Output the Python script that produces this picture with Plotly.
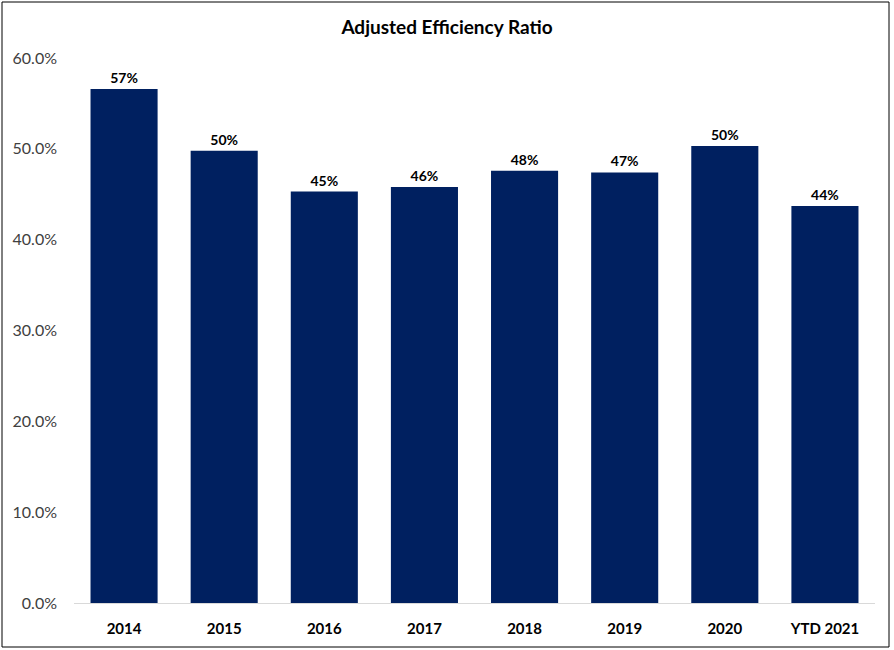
import plotly.graph_objects as go

categories = ["2014", "2015", "2016", "2017", "2018", "2019", "2020", "YTD 2021"]
ratios = [0.566, 0.498, 0.453, 0.458, 0.476, 0.474, 0.503, 0.437]
y_ticks = [0, 0.1, 0.2, 0.3, 0.4, 0.5, 0.6]

W, H = 894, 650
ml, mr, mt, mb = 74, 19, 58, 47
pw, ph = W - ml - mr, H - mt - mb
FONT = "Lato, 'Open Sans', sans-serif"

fig = go.Figure(go.Bar(
    x=categories, y=ratios,
    marker=dict(color="#002060", line=dict(width=0)),
    width=0.67,
    texttemplate="%{y:.0%}", textposition="outside",
    textfont=dict(family=FONT, size=14, color="#000000", weight="bold"),
    cliponaxis=False,
))

fig.update_layout(
    width=W, height=H,
    margin=dict(l=ml, r=mr, t=mt, b=mb),
    paper_bgcolor="white", plot_bgcolor="white",
    showlegend=False,
    title=dict(text="<b>Adjusted Efficiency Ratio</b>", x=0.5, xanchor="center",
               y=1 - 27 / H, yanchor="middle",
               font=dict(family=FONT, size=19, color="#000000")),
    xaxis=dict(showline=True, linecolor="#d9d9d9", linewidth=1, showgrid=False,
               ticks="", tickfont=dict(family=FONT, size=15, color="#000000", weight="bold"),
               ticklabelstandoff=12),
    yaxis=dict(range=[0, 0.6], tickvals=y_ticks, tickformat=".1%", showgrid=False,
               zeroline=False, showline=False, ticks="",
               tickfont=dict(family=FONT, size=16, color="#404040"),
               ticklabelstandoff=16),
    shapes=[dict(type="rect", xref="paper", yref="paper",
                 x0=-(ml - 2) / pw, x1=1 + (mr - 5) / pw,
                 y0=-(mb - 3) / ph, y1=1 + (mt - 2) / ph,
                 line=dict(color="#000000", width=1), fillcolor="rgba(0,0,0,0)")],
)

fig.write_html("out.html", config={"displayModeBar": False},
               post_script="document.body.style.margin='0';document.body.style.padding='0';"
                           "document.body.style.overflow='hidden';")
